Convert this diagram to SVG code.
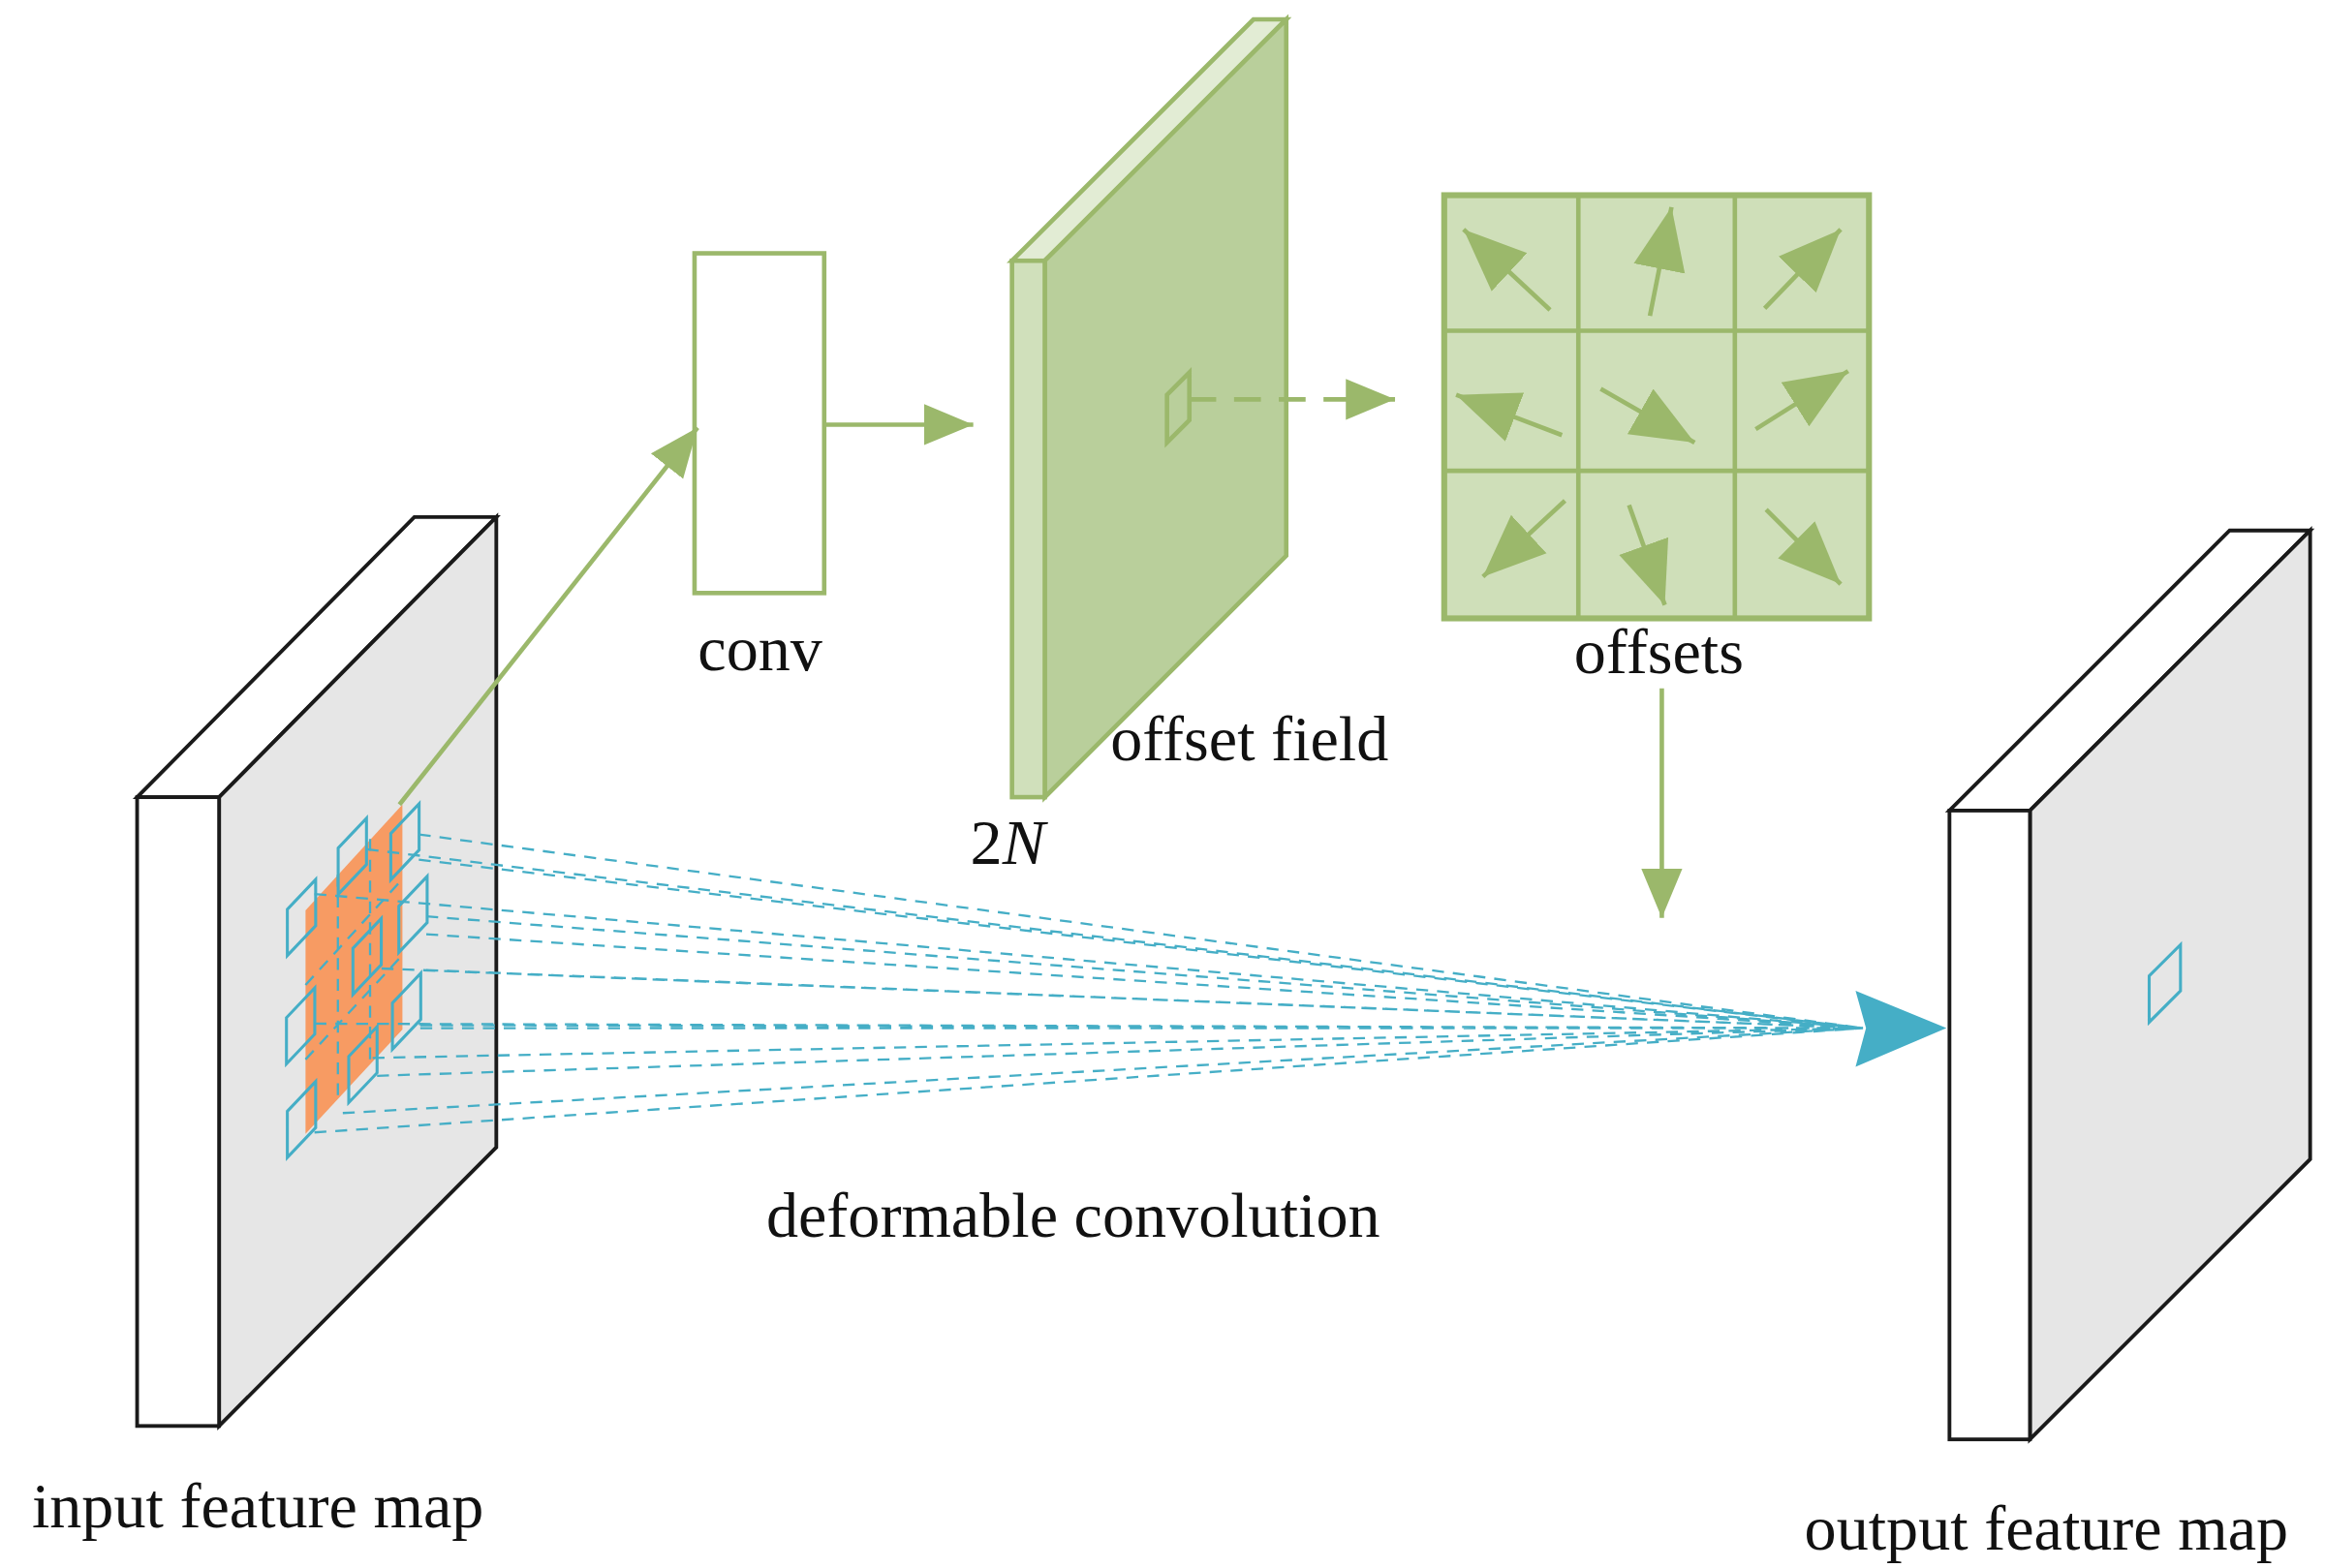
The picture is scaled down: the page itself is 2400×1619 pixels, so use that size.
<svg xmlns="http://www.w3.org/2000/svg" width="2400" height="1619" viewBox="0 0 2400 1619">
<style>
.k{stroke:#1a1a1a;stroke-width:2.5;stroke-linejoin:miter}
.g{stroke:#9bb86b;stroke-width:3;fill:none}
.b{stroke:#45aec6;stroke-width:2;fill:none}
.d{stroke:#45aec6;stroke-width:1.5;fill:none;stroke-dasharray:8 6}
.t{font-family:"Liberation Serif",serif;font-size:43px;fill:#111}
</style>
<defs>
<marker id="ga" viewBox="0 0 12 10" refX="12" refY="5" markerWidth="11" markerHeight="10" orient="auto"><path d="M0,0L12,5L0,10z" fill="#9bb86b"/></marker>
<marker id="gb" viewBox="0 0 12 10" refX="12" refY="5" markerWidth="14" markerHeight="12" orient="auto"><path d="M0,0L12,5L0,10z" fill="#9bb86b"/></marker>
</defs>
<rect width="2400" height="1619" fill="#fff"/>
<g transform="scale(1.5385)">
<g id="input">
<polygon class="k" points="92,535 278,347 333,347 147,535" fill="#fff"/>
<polygon class="k" points="147,535 333,347 333,770 147,957" fill="#e6e6e6"/>
<rect class="k" x="92" y="535" width="55" height="422" fill="#fff"/>
<polygon points="205,611 270,540 270,691 205,761" fill="#f79b63"/>
<g class="d">
<path d="M226.7,587V737M248.3,563V713M205,661L270,590M205,711L270,641"/>
</g>
<g class="b">
<path d="M192.8,641.3l0,-31l19,-20l0,31z"/>
<path d="M226.9,600.2l0,-31l19,-20l0,31z"/>
<path d="M262.2,590.4l0,-31l19,-20l0,31z"/>
<path d="M236.8,667.4l0,-31l19,-20l0,31z"/>
<path d="M267.6,639.2l0,-31l19,-20l0,31z"/>
<path d="M192.2,714l0,-31l19,-20l0,31z"/>
<path d="M263.3,704.2l0,-31l19,-20l0,31z"/>
<path d="M234,740l0,-31l19,-20l0,31z"/>
<path d="M192.8,776.8l0,-31l19,-20l0,31z"/>
</g>
<text class="t" x="173" y="1025" text-anchor="middle">input feature map</text>
</g>
<g id="output">
<polygon class="k" points="1308,544 1496,356 1550,356 1362,544" fill="#fff"/>
<polygon class="k" points="1362,544 1550,356 1550,778 1362,966" fill="#e6e6e6"/>
<rect class="k" x="1308" y="544" width="54" height="422" fill="#fff"/>
<path class="b" d="M1442,686V655L1463,634V665Z"/>
<text class="t" x="1373" y="1040" text-anchor="middle">output feature map</text>
</g>
<g id="conv">
<rect x="466" y="170" width="87" height="228" class="g" style="fill:#fff"/>
<text class="t" x="510" y="450" text-anchor="middle">conv</text>
</g>
<g id="offsetfield">
<polygon points="679,175 841,13 863,13 701,175" class="g" style="fill:#e2ecd4"/>
<polygon points="701,175 863,13 863,373 701,535" class="g" style="fill:#b9cf9b"/>
<rect x="679" y="175" width="22" height="360" class="g" style="fill:#d0e0bb"/>
<path class="g" d="M783,297V265L798,250V282Z" style="fill:#b9cf9b"/>
<text class="t" x="745" y="510">offset field</text>
<text class="t" x="651" y="580">2<tspan font-style="italic">N</tspan></text>
</g>
<g id="offsets">
<rect x="969" y="131" width="285" height="284" fill="#cfdfb9" stroke="#9bb86b" stroke-width="4"/>
<path class="g" d="M1059,131V415M1164,131V415M969,222H1254M969,316H1254"/>
<g class="g" marker-end="url(#gb)" stroke-width="2.5" transform="translate(-3,0)">
<path d="M1043,208L985,154"/>
<path d="M1110,212L1124.5,139"/>
<path d="M1187,207L1238,154"/>
<path d="M1051,292L980,265"/>
<path d="M1077,261L1140,297"/>
<path d="M1181,288L1243,249"/>
<path d="M1053,336L998,387"/>
<path d="M1096,339L1120,406"/>
<path d="M1188,342L1238,392"/>
</g>
<text class="t" x="1113" y="452" text-anchor="middle">offsets</text>
</g>
<g id="connectors">
<path class="g" d="M268,540L468,287" marker-end="url(#ga)"/>
<path class="g" d="M553,285H653" marker-end="url(#ga)"/>
<path class="g" d="M798,268H936" stroke-dasharray="18 12" marker-end="url(#ga)"/>
<path class="g" d="M1115,462V616" marker-end="url(#ga)"/>
<g class="d">
<path d="M211,600L1250,690M246,570L1250,690M281,560L1250,690M281,577L1250,690M286,615L1250,690M286,627L1250,690M256,650L1250,690M286,651L1250,690M211,687L1250,690M282,690L1250,690M282,688L1250,690M253,722L1250,690M250,710L1250,690M211,760L1250,690M230,747L1250,690"/>
</g>
<polygon points="1245,665 1306,690 1245,716 1252,690" fill="#45aec6"/>
<text class="t" x="720" y="830" text-anchor="middle">deformable convolution</text>
</g>
</g>
</svg>
